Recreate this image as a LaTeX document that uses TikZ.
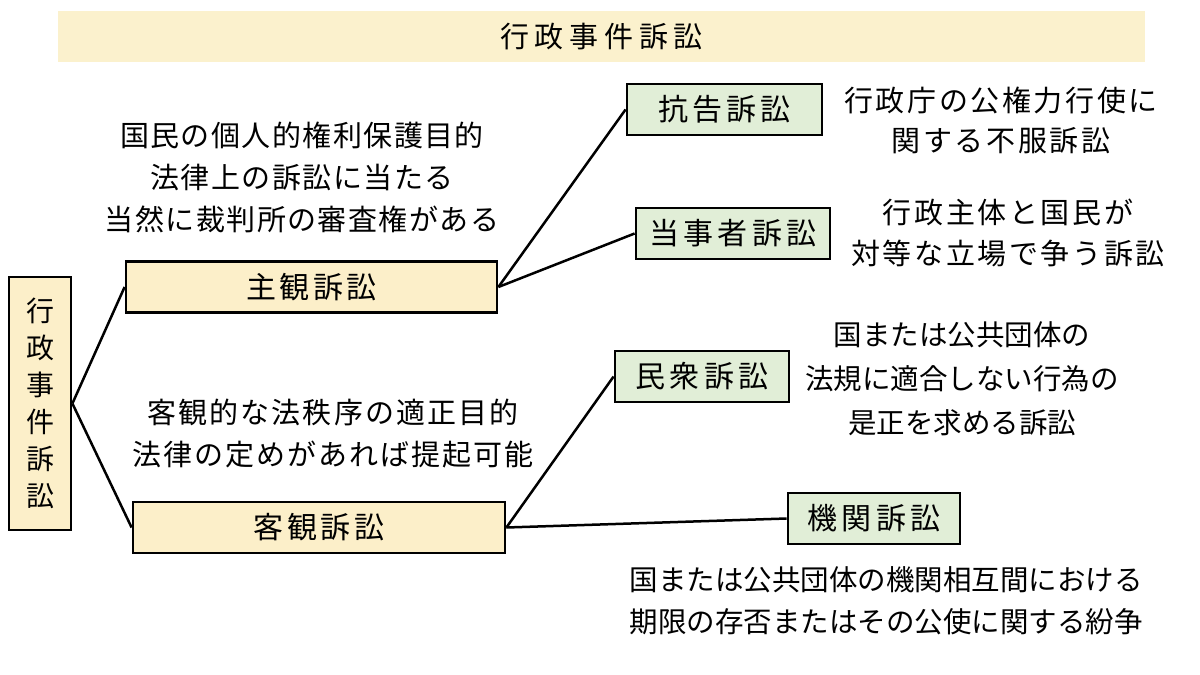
\documentclass[tikz,border=0pt]{standalone}
\usepackage{fontspec}
\setmainfont{Noto Sans CJK JP}
\usepackage[dvipsnames]{xcolor}

\definecolor{bandyellow}{HTML}{FBF1CD}
\definecolor{boxyellow}{HTML}{FCEFC9}
\definecolor{boxgreen}{HTML}{E1EED7}

\newcommand{\spaced}[1]{\addfontfeatures{LetterSpace=#1}}

\begin{document}
\begin{tikzpicture}[x=1pt,y=-1pt,line width=2.5pt,
  yellow box/.style={draw,line width=2.8pt,fill=boxyellow,minimum height=51pt,inner sep=0pt,font=\fontsize{30}{36}\selectfont\spaced{12}},
  green box/.style={draw,line width=2.8pt,fill=boxgreen,minimum height=51pt,inner sep=0pt,font=\fontsize{30}{36}\selectfont\spaced{14}},
  note/.style={align=center,inner sep=0pt,font=\fontsize{29}{42}\selectfont}]

  \useasboundingbox[fill=white] (0,0) rectangle (1200,675);

  \node[fill=bandyellow, minimum width=1087pt, minimum height=51pt, font=\fontsize{29}{36}\selectfont\spaced{20}] (title) at (601.5,36.5) {行政事件訴訟};

  \node[yellow box, minimum width=62pt, minimum height=253pt, align=center, font=\fontsize{28}{37}\selectfont] (root) at (40,403.5) {行\\政\\事\\件\\訴\\訟};

  \node[yellow box, minimum width=371pt] (shukan) at (311.5,287) {主観訴訟};
  \node[yellow box, minimum width=372pt] (kyakkan) at (319,527.5) {客観訴訟};

  \node[green box, minimum width=195pt] (kokoku) at (724.5,109.5) {抗告訴訟};
  \node[green box, minimum width=194pt] (tojisha) at (733,233.5) {当事者訴訟};
  \node[green box, minimum width=174pt] (minshu) at (702,376.5) {民衆訴訟};
  \node[green box, minimum width=172pt] (kikan) at (874,518.5) {機関訴訟};

  \node[note, font=\fontsize{29}{42}\selectfont\spaced{5}] (n1) at (302,177) {国民の個人的権利保護目的\\法律上の訴訟に当たる\\当然に裁判所の審査権がある};
  \node[note, font=\fontsize{29}{42}\selectfont\spaced{7}] (n2) at (333,434) {客観的な法秩序の適正目的\\法律の定めがあれば提起可能};
  \node[note, font=\fontsize{29}{40}\selectfont\spaced{9}] (n3) at (1001,120) {行政庁の公権力行使に\\関する不服訴訟};
  \node[note, font=\fontsize{29}{41}\selectfont\spaced{9}] (n4) at (1008,233) {行政主体と国民が\\対等な立場で争う訴訟};
  \node[note, font=\fontsize{28.5}{44}\selectfont] (n5) at (962,379) {国または公共団体の\\法規に適合しない行為の\\是正を求める訴訟};
  \node[note, font=\fontsize{28.5}{42}\selectfont] (n6) at (886,601) {国または公共団体の機関相互間における\\期限の存否またはその公使に関する紛争};

  \draw (root.east) -- (shukan.west);
  \draw (root.east) -- (kyakkan.west);
  \draw (shukan.east) -- (kokoku.west);
  \draw (shukan.east) -- (tojisha.west);
  \draw (kyakkan.east) -- (minshu.west);
  \draw (kyakkan.east) -- (kikan.west);
\end{tikzpicture}
\end{document}
